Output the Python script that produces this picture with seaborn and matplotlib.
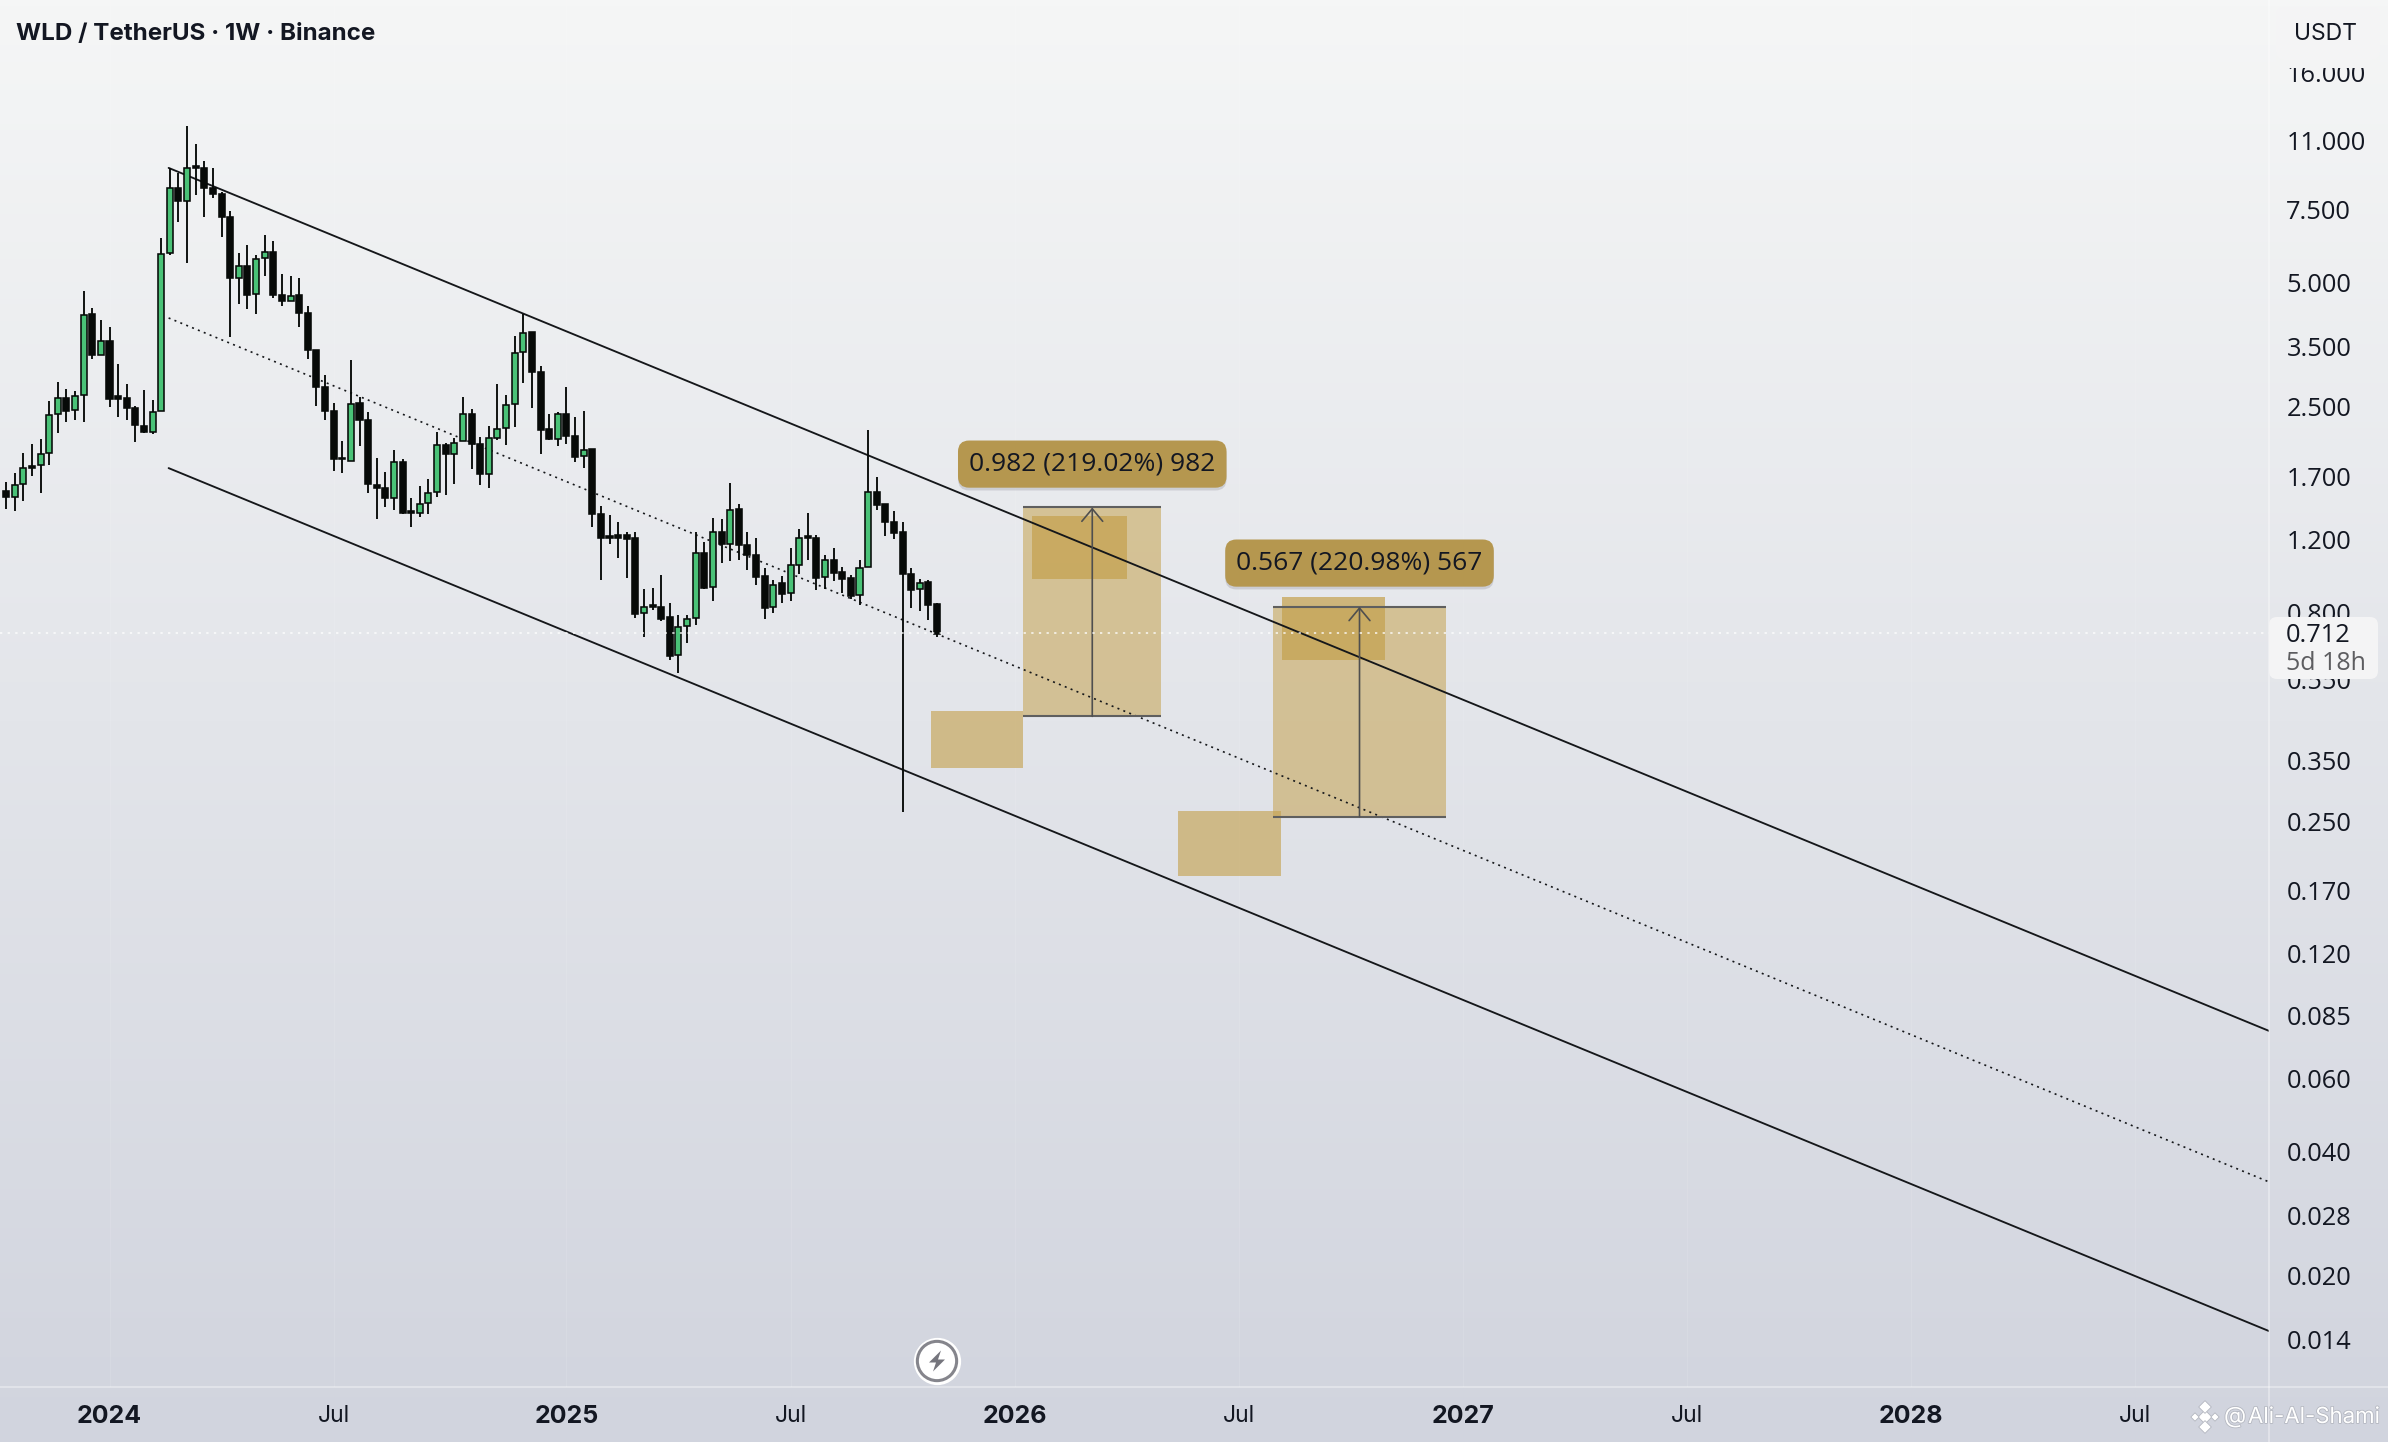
import matplotlib
matplotlib.use('Agg')
import numpy as np
import pandas as pd
import matplotlib.pyplot as plt
import matplotlib.dates as mdates
import matplotlib.patheffects as pe
from matplotlib.patches import FancyBboxPatch
import seaborn as sns

# ---- data ----
first_week = '2023-10-09'
opens = [1.57,1.52,1.63,1.8,1.81,1.94,2.41,2.63,2.46,2.67,4.18,3.34,3.6,2.65,
 2.63,2.48,2.25,2.18,2.45,5.87,8.46,7.86,9.53,9.46,8.43,8.15,7.17,5.11,
 5.48,4.69,5.72,5.9,4.67,4.51,4.65,4.21,3.43,2.8,2.45,1.88,1.85,2.55,
 2.33,1.62,1.59,1.51,1.84,1.4,1.39,1.47,1.56,2.02,1.92,2.07,2.41,2.03,
 1.72,2.1,2.23,2.54,3.39,3.79,3.03,2.21,2.09,2.4,2.13,1.9,1.98,1.38,
 1.22,1.23,1.23,1.21,0.796,0.83,0.824,0.777,0.629,0.739,0.773,1.11,0.92,1.25,
 1.17,1.42,1.16,1.1,0.976,0.821,0.938,0.889,1.04,1.22,1.21,0.972,1.07,0.998,
 0.965,0.878,1.03,1.56,1.46,1.32,1.25,0.99,0.908,0.944,0.835]
highs = [1.65,1.73,1.94,2.03,2.09,2.58,2.87,2.77,2.73,4.76,4.33,4.06,3.89,3.17,
 2.84,2.51,2.75,2.6,6.38,9.42,9.2,11.9,10.8,9.79,9.42,8.24,7.42,5.87,
 6.14,5.82,6.49,6.28,5.24,5.17,5.12,4.38,3.43,2.98,2.55,2.07,3.24,2.64,
 2.43,1.88,1.74,1.97,1.87,1.51,1.61,1.68,2.17,2.05,2.11,2.64,2.47,2.12,
 2.25,2.84,2.67,3.71,4.18,3.79,3.14,2.4,2.43,2.79,2.36,2.45,1.98,1.44,
 1.37,1.32,1.25,1.25,0.909,0.913,0.983,0.84,0.786,0.786,1.25,1.18,1.35,1.34,
 1.64,1.46,1.25,1.21,1.02,0.954,0.977,1.14,1.27,1.39,1.23,1.1,1.14,1.03,
 0.981,1.07,2.2,1.69,1.46,1.4,1.32,1.02,0.96,0.954,0.84]
lows = [1.42,1.4,1.48,1.7,1.55,1.81,2.16,2.3,2.32,2.3,3.26,3.33,2.5,2.37,
 2.33,2.06,2.16,2.15,2.44,5.83,6.97,5.58,8.14,7.2,8,6.44,3.68,4.44,
 4.32,4.18,5.19,4.59,4.39,4.5,3.89,3.27,2.51,2.32,1.75,1.73,1.85,2.01,
 1.55,1.34,1.43,1.41,1.38,1.28,1.36,1.38,1.52,1.53,1.63,2.07,1.77,1.62,
 1.59,2.08,2.02,2.24,2.86,2.49,1.93,2.08,2.01,2.04,1.84,1.78,1.28,0.958,
 1.17,1.08,0.968,0.775,0.698,0.809,0.763,0.613,0.571,0.675,0.746,0.911,0.852,1.05,
 1.06,1.07,1.01,0.932,0.771,0.797,0.843,0.852,0.988,1.07,0.904,0.909,0.952,0.888,
 0.862,0.83,1.03,1.41,1.22,1.2,0.263,0.82,0.805,0.765,0.695]
closes = [1.52,1.62,1.78,1.78,1.93,2.39,2.63,2.45,2.66,4.17,3.33,3.6,2.61,2.61,
 2.48,2.26,2.17,2.43,5.85,8.45,7.84,9.44,9.46,8.43,8.15,7.17,5.11,5.48,
 4.67,5.69,5.9,4.67,4.5,4.63,4.21,3.43,2.8,2.45,1.87,1.87,2.54,2.33,
 1.63,1.59,1.51,1.84,1.39,1.39,1.46,1.55,2.02,1.92,2.05,2.41,2.04,1.72,
 2.1,2.21,2.53,3.38,3.78,3.03,2.2,2.09,2.4,2.13,1.89,1.97,1.38,1.21,
 1.21,1.21,1.2,0.793,0.824,0.824,0.771,0.628,0.738,0.771,1.11,0.916,1.25,1.17,
 1.41,1.16,1.1,0.974,0.82,0.932,0.886,1.04,1.21,1.21,0.968,1.07,0.992,0.963,
 0.876,1.02,1.56,1.45,1.32,1.24,0.99,0.906,0.94,0.834,0.707]

channel_dates = ['2024-02-18', '2028-10-19 12:00']
channel_upper = [9.44, 0.078]
channel_middle = [4.10, 0.0337]
channel_lower = [1.78, 0.01471]

last_price = 0.712
price_ticks = [16, 11, 7.5, 5, 3.5, 2.5, 1.7, 1.2, 0.8, 0.55, 0.35, 0.25, 0.17, 0.12, 0.085, 0.06, 0.04, 0.028, 0.02, 0.014]
price_labels = ['16.000','11.000','7.500','5.000','3.500','2.500','1.700','1.200','0.800','0.550','0.350','0.250','0.170','0.120','0.085','0.060','0.040','0.028','0.020','0.014']
time_ticks = ['2024-01-01','2024-07-01','2025-01-06','2025-07-07','2026-01-05','2026-07-06','2027-01-04','2027-07-05','2028-01-03','2028-07-03']
time_labels = ['2024','Jul','2025','Jul','2026','Jul','2027','Jul','2028','Jul']

# target ranges (start date, end date, low, high)
range_a = ('2026-01-12', '2026-05-04', 0.448, 1.430)
range_b = ('2026-08-03', '2026-12-21', 0.2566, 0.8236)
arrow_a_date, arrow_b_date = '2026-03-09', '2026-10-12'
label_a = '0.982 (219.02%) 982'
label_b = '0.567 (220.98%) 567'
label_a_price, label_b_price = 1.82, 1.05
inner_zones = [('2026-01-19','2026-04-06',0.961,1.365), ('2026-08-10','2026-11-02',0.613,0.870)]
entry_zones = [('2025-10-29','2026-01-12',0.336,0.4617), ('2026-05-18','2026-08-09',0.1845,0.2648)]

# ---- style ----
sns.set_theme(style='white')
plt.rcParams['font.family'] = ['Inter', 'DejaVu Sans']
W, H = 2388, 1442
AX_R, AX_B = 2269, 1387
TXT = '#131722'
GOLD = '#c5a24f'
NUM_FONT = ['Open Sans', 'DejaVu Sans']
num = lambda d: mdates.date2num(pd.Timestamp(d))

fig = plt.figure(figsize=(W/100, H/100), dpi=100)
bg = fig.add_axes([0, 0, 1, 1], zorder=0)
grad = np.linspace(0, 1, 256)[:, None, None]
top, bottom = np.array([0xf5, 0xf6, 0xf6])/255, np.array([0xd1, 0xd4, 0xde])/255
bg.imshow(top + (bottom-top)*grad, aspect='auto', extent=(0, 1, 0, 1))
bg.axis('off')

ax = fig.add_axes([0, (H-AX_B)/H, AX_R/W, AX_B/H], zorder=1)
ax.patch.set_alpha(0)
ax.set_yscale('log')

candles = pd.DataFrame({'open': opens, 'high': highs, 'low': lows, 'close': closes})
candles['x'] = mdates.date2num(pd.date_range(first_week, periods=len(candles), freq='7D'))
candles['top'] = candles[['open', 'close']].max(axis=1)
candles['bot'] = candles[['open', 'close']].min(axis=1)
up = candles['close'] >= candles['open']

for x in time_ticks:
    ax.axvline(num(x), color='white', alpha=.1, lw=1, zorder=0.5)

# zones and ranges
for d0, d1, lo, hi in (range_a, range_b):
    ax.fill_between([num(d0), num(d1)], lo, hi, color=GOLD, alpha=.55, lw=0, zorder=1)
for d0, d1, lo, hi in inner_zones:
    ax.fill_between([num(d0), num(d1)], lo, hi, color=GOLD, alpha=.72, lw=0, zorder=1.1)
for d0, d1, lo, hi in entry_zones:
    ax.fill_between([num(d0), num(d1)], lo, hi, color=GOLD, alpha=.63, lw=0, zorder=1.1)

# channel
for vals, ls in ((channel_upper, '-'), (channel_lower, '-'), (channel_middle, (0, (1.2, 2.6)))):
    df = pd.DataFrame({'x': [num(d) for d in channel_dates], 'y': vals})
    sns.lineplot(data=df, x='x', y='y', ax=ax, color='#15171a', lw=1.35 if ls == '-' else 1.2, linestyle=ls,
                 estimator=None, legend=False, zorder=2)

# candles
ax.vlines(candles['x'], candles['low'], candles['high'], color='#070a08', lw=1.35, zorder=3)
ax.bar(candles['x'], candles['top']-candles['bot'], bottom=candles['bot'], width=4.9,
       color=np.where(up, '#4ac277', '#070a08'), edgecolor='#070a08', lw=1.15, zorder=4)

# range borders and arrows
for (d0, d1, lo, hi), ad in ((range_a, arrow_a_date), (range_b, arrow_b_date)):
    ax.hlines([lo, hi], num(d0), num(d1), color='#5f5f5f', lw=1.5, zorder=5)
    ax.annotate('', xy=(num(ad), hi), xytext=(num(ad), lo), zorder=5,
                arrowprops=dict(arrowstyle='->,head_length=0.9,head_width=0.75', mutation_scale=10,
                                color='#4f4f4f', lw=1.2, shrinkA=0, shrinkB=0))
for ad, p, s in ((arrow_a_date, label_a_price, label_a), (arrow_b_date, label_b_price, label_b)):
    t = ax.text(num(ad), p, s, ha='center', va='center', fontsize=19, family=NUM_FONT, color=TXT, zorder=6,
                bbox=dict(boxstyle='round,pad=0.42,rounding_size=0.42', fc='#b5974f', ec='none'))
    t.get_bbox_patch().set_path_effects([pe.withSimplePatchShadow(offset=(0, -2), shadow_rgbFace='#9a9aa5', alpha=.35)])

# last price line
ax.axhline(last_price, color='white', lw=1.1, ls=(0, (1.5, 3.5)), alpha=.9, zorder=7)

ax.set_xlim(num('2023-10-04 02:00'), num('2028-10-19 12:00'))
ax.set_ylim(0.01078, 24.0)
ax.yaxis.tick_right()
ax.set_yticks(price_ticks, price_labels, family=NUM_FONT)
ax.minorticks_off()
ax.set_xticks([num(d) for d in time_ticks], time_labels)
ax.set_xlabel(''); ax.set_ylabel('')
ax.tick_params(axis='y', length=0, pad=12.5, labelsize=18.3, labelcolor=TXT)
ax.tick_params(axis='x', length=0, pad=13, labelsize=16.5, labelcolor=TXT)
for lb, s in zip(ax.get_xticklabels(), time_labels):
    if s != 'Jul':
        lb.set_fontweight('bold')
        lb.set_fontsize(18)
for s in ax.spines.values():
    s.set_visible(False)

# interface layer
ov = fig.add_axes([0, 0, 1, 1], zorder=3)
ov.set_xlim(0, W); ov.set_ylim(H, 0); ov.axis('off'); ov.patch.set_alpha(0)
ov.axvline(AX_R, color='white', alpha=.42, lw=1.2)
ov.axhline(AX_B, color='white', alpha=.42, lw=1.2)
ov.text(16, 34, 'WLD / TetherUS · 1W · Binance', fontsize=17.4, fontweight='bold', color=TXT, va='center')
ov.fill_between([2276, 2380], 55, 68, color='#f3f4f4', lw=0, zorder=1.5)
for (x0, y0, x1, y1) in ((2276, 7, 2380, 60), (2269, 617, 2378, 679)):
    ov.add_patch(FancyBboxPatch((x0+6, y0+6), x1-x0-12, y1-y0-12, boxstyle='round,pad=6,rounding_size=8',
                                fc='#f4f4f5', ec='none', zorder=2))
ov.text(2326, 34, 'USDT', fontsize=16.5, color=TXT, ha='center', va='center', zorder=3)
ov.text(2286, 635, '0.712', fontsize=18.3, family=NUM_FONT, color=TXT, va='center', zorder=3)
ov.text(2286, 664, '5d 18h', fontsize=18, family=NUM_FONT, color='#5d5d60', va='center', zorder=3)

# lightning badge
ov.scatter([937], [1361], s=1090, color='white', zorder=2)
ov.scatter([937], [1361], s=800, facecolor='none', edgecolor='#85858c', lw=2.2, zorder=3)
bolt_x = np.array([4, -8, -1, -4, 8, 1]) + 937
bolt_y = np.array([-10.5, 1.5, 1.5, 10.5, -1.5, -1.5]) + 1361
ov.fill(bolt_x, bolt_y, color='#75757d', lw=0, zorder=4)

# watermark
halo = [pe.withStroke(linewidth=1.2, foreground='#b4b7c0')]
ov.scatter([2205, 2195, 2215, 2205, 2205], [1417, 1417, 1417, 1407, 1427], marker='D', s=[50, 18, 18, 42, 42],
           color='white', edgecolor='#b4b7c0', lw=.6, zorder=4)
ov.text(2224, 1417, '@', fontsize=16.5, color='white', va='center', path_effects=halo, zorder=4)
ov.text(2248, 1417, 'Ali-Al-Shami', fontsize=16, color='white', va='center', path_effects=halo, zorder=4)

fig.savefig('out.png', dpi=100)
